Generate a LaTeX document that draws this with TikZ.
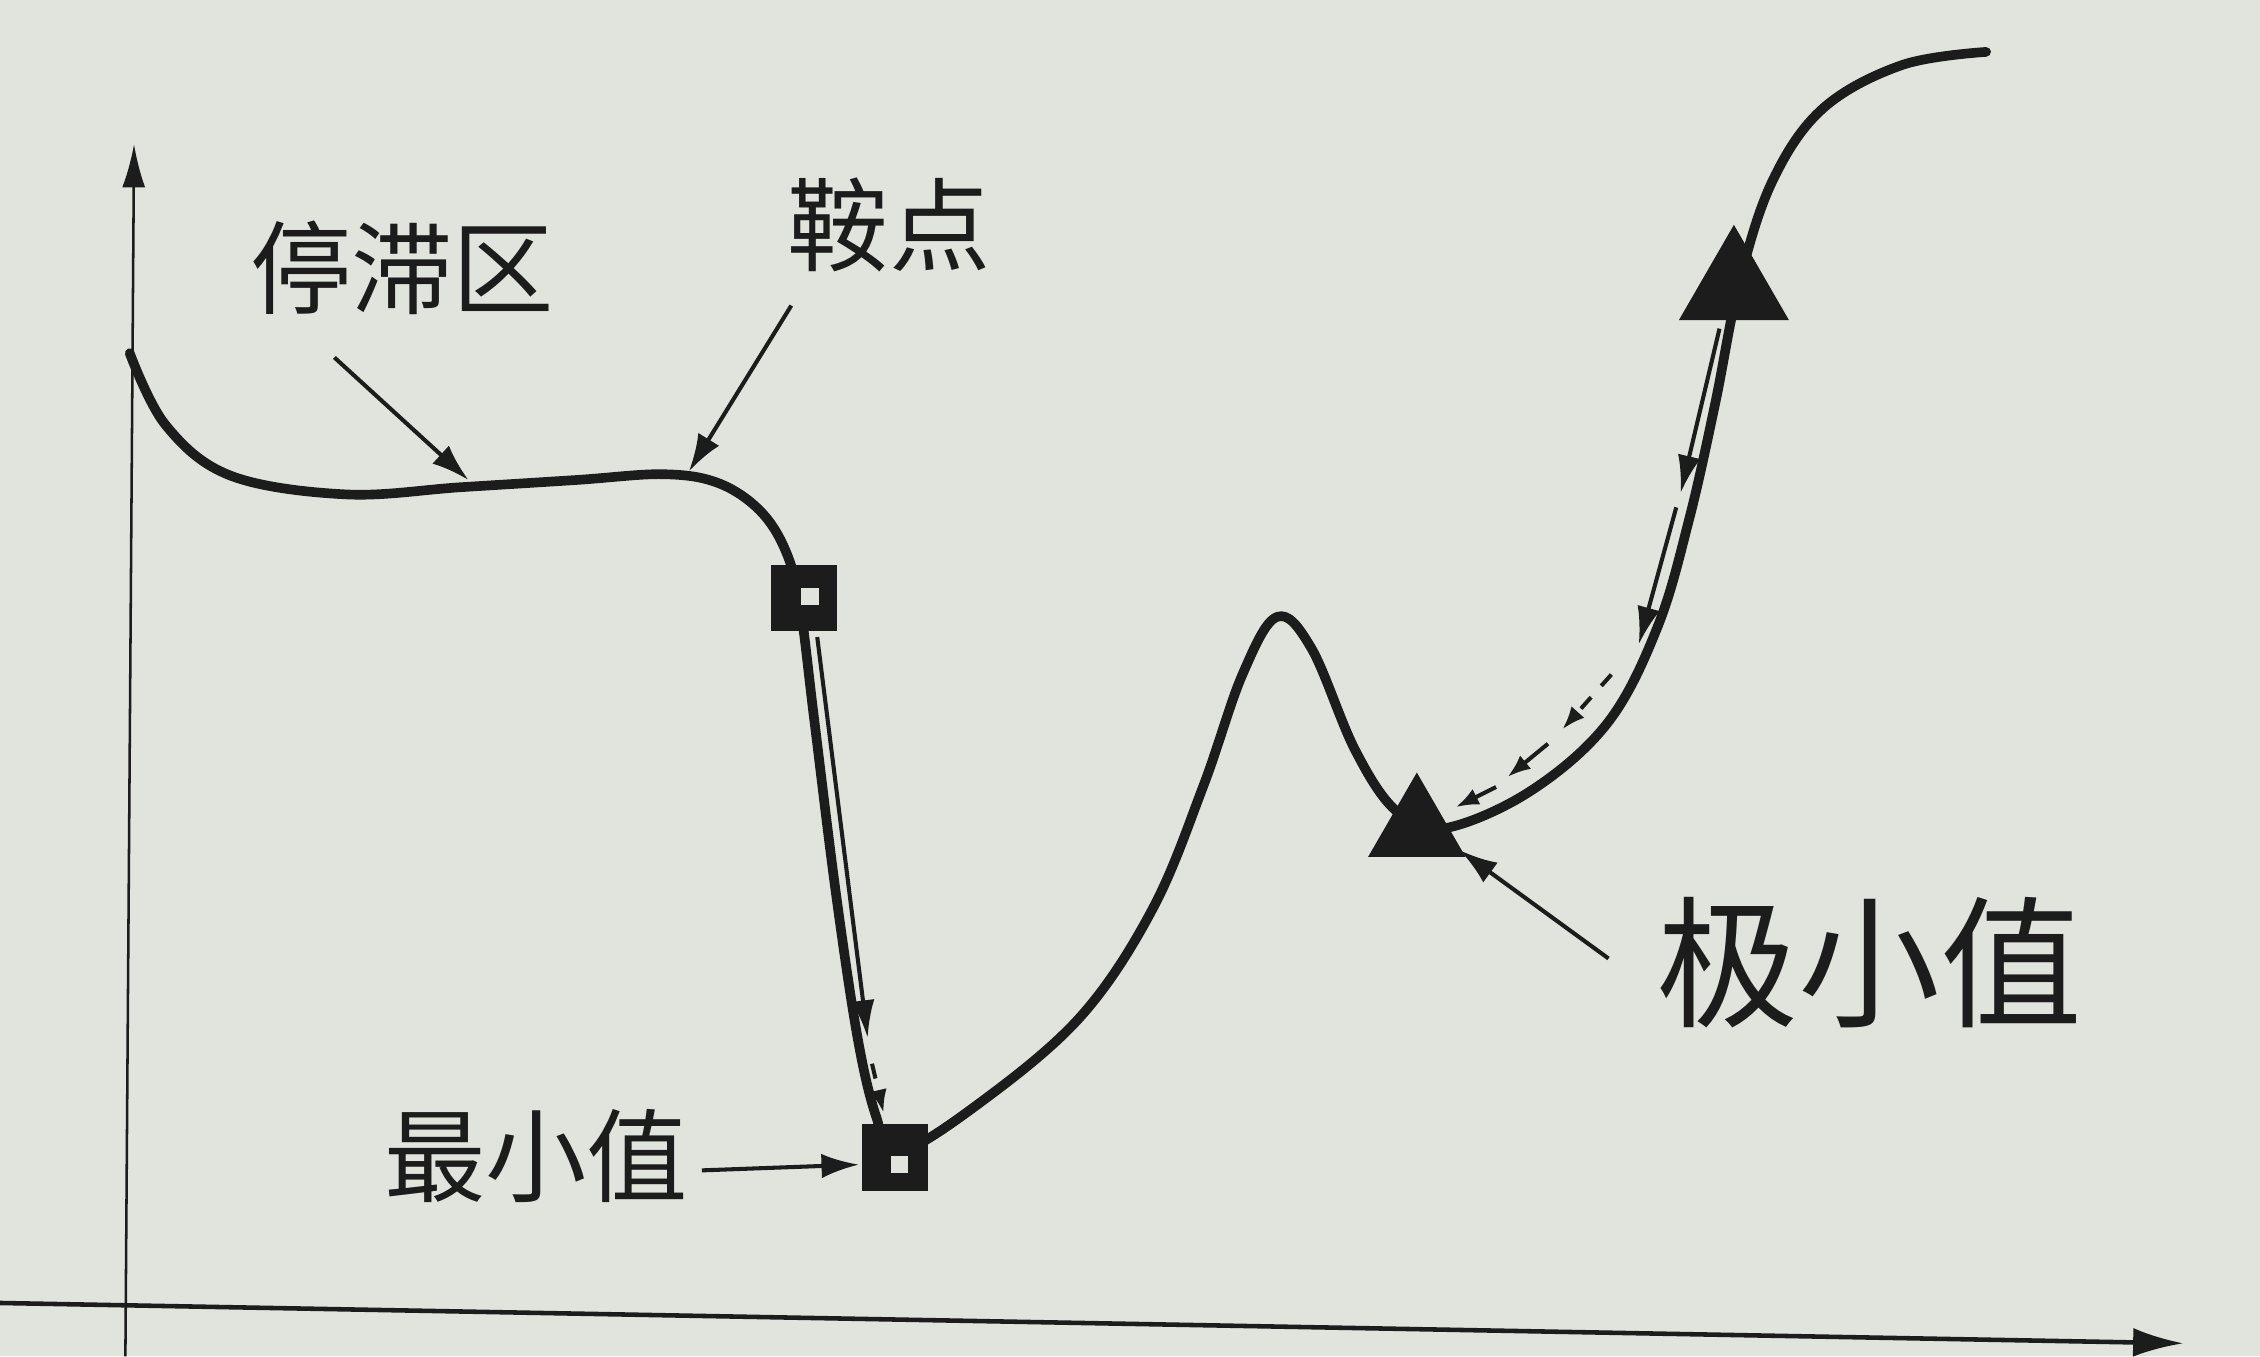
\documentclass[tikz,border=0pt]{standalone}
\usepackage{fontspec}
\newfontfamily\cjk{Noto Sans CJK SC}
\usetikzlibrary{arrows.meta,shapes.geometric}
\definecolor{paper}{RGB}{224,228,221}
\definecolor{ink}{RGB}{28,28,28}
\begin{document}
\begin{tikzpicture}[x=0.01cm,y=-0.01cm,
  axisline/.style={draw=ink,line width=0.5pt},
  curveline/.style={draw=ink,line width=1.9pt,line cap=round,line join=round},
  callout/.style={draw=ink,line width=0.8pt,-{Latex[length=0.26cm,width=0.17cm]}},
  stepline/.style={draw=ink,line width=0.8pt,-{Latex[length=0.26cm,width=0.16cm]}},
  smallstep/.style={draw=ink,line width=0.8pt,-{Latex[length=0.16cm,width=0.12cm]}},
  lbl/.style={font=\cjk\fontsize{20}{24}\selectfont,text=ink,inner sep=0pt},
  biglbl/.style={font=\cjk\fontsize{28}{32}\selectfont,text=ink,inner sep=0pt},
  sqmark/.style={rectangle,fill=ink,minimum size=0.46cm,inner sep=0pt},
  sqhole/.style={rectangle,fill=paper,minimum size=0.12cm,inner sep=0pt},
  trimark/.style={regular polygon,regular polygon sides=3,fill=ink,inner sep=0pt}]
\fill[paper] (0,0) rectangle (1568,941);
\useasboundingbox (0,0) rectangle (1568,941);
% axes
\coordinate (ybot) at (87,941);
\coordinate (ytip) at (93,100);
\coordinate (xl) at (0,904);
\coordinate (xtip) at (1515,932);
\draw[axisline,-{Latex[length=0.3cm,width=0.16cm]}] (ybot) -- (ytip);
\draw[axisline,line width=0.9pt,-{Latex[length=0.35cm,width=0.2cm]}] (xl) -- (xtip);
% main curve
\draw[curveline] plot[smooth,tension=0.6] coordinates {
 (90,245) (115,295) (160,330) (240,343) (320,338) (400,333) (460,329)
 (498,335) (527,354) (545,382) (555,420) (565,500) (580,620) (595,720) (608,775)
 (622,800) (680,765) (750,705) (800,630) (835,545) (862,468) (886,428)
 (910,450) (940,520) (968,562) (1000,575) (1060,550) (1115,502) (1150,435)
 (1172,360) (1190,280) (1207,195) (1230,125) (1265,75) (1320,45) (1378,36)};
% markers
\node[sqmark] (sq1) at (558,415) {};
\node[sqhole] (sq1h) at (562,414) {};
\node[sqmark] (sq2) at (621,803) {};
\node[sqhole] (sq2h) at (624,808) {};
\node[trimark,minimum size=0.88cm] (tri1) at (1203,200) {};
\node[trimark,minimum size=0.78cm] (tri2) at (983,575) {};
% step arrows (left)
\coordinate (s1a) at (567,442);
\coordinate (s1b) at (602,720);
\coordinate (s1c) at (605,738);
\coordinate (s1d) at (613,772);
\draw[stepline] (s1a) -- (s1b);
\draw[smallstep,dashed] (s1c) -- (s1d);
% step arrows (right)
\coordinate (r1a) at (1193,228);
\coordinate (r1b) at (1166,342);
\coordinate (r2a) at (1163,352);
\coordinate (r2b) at (1137,447);
\coordinate (r3a) at (1118,468);
\coordinate (r3b) at (1084,506);
\coordinate (r4a) at (1074,516);
\coordinate (r4b) at (1046,539);
\coordinate (r5a) at (1038,546);
\coordinate (r5b) at (1010,560);
\draw[stepline] (r1a) -- (r1b);
\draw[stepline] (r2a) -- (r2b);
\draw[smallstep,dashed] (r3a) -- (r3b);
\draw[smallstep] (r4a) -- (r4b);
\draw[smallstep] (r5a) -- (r5b);
% labels
\node[lbl] (tz) at (279,186) {停滞区};
\node[lbl] (ad) at (617,156) {鞍点};
\node[lbl] (zx) at (372,802) {最小值};
\node[biglbl] (jx) at (1297,668) {极小值};
\coordinate (tzs) at (232,248);
\coordinate (tze) at (325,333);
\coordinate (ads) at (549,212);
\coordinate (ade) at (478,327);
\coordinate (zxs) at (487,812);
\coordinate (zxe) at (596,808);
\coordinate (jxs) at (1116,665);
\coordinate (jxe) at (1013,590);
\draw[callout] (tzs) -- (tze);
\draw[callout] (ads) -- (ade);
\draw[callout] (zxs) -- (zxe);
\draw[callout] (jxs) -- (jxe);
\end{tikzpicture}
\end{document}
